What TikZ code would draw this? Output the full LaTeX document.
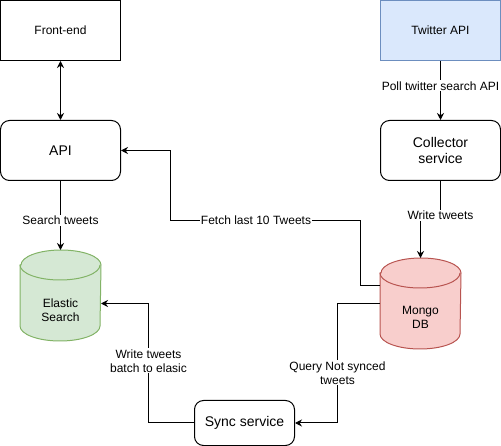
\documentclass[tikz,border=0pt]{standalone}
\usepackage{fontspec}
\setmainfont{Liberation Sans}
\usepackage{tikz}
\usetikzlibrary{arrows.meta}

\definecolor{twfill}{HTML}{DAE8FC}
\definecolor{twline}{HTML}{6C8EBF}
\definecolor{esfill}{HTML}{D5E8D4}
\definecolor{esline}{HTML}{82B366}
\definecolor{mgfill}{HTML}{F8CECC}
\definecolor{mgline}{HTML}{B85450}

\begin{document}
\begin{tikzpicture}[x=1pt, y=-1pt, line width=1pt,
	every node/.style={font=\fontsize{12}{14}\selectfont, align=center},
	box/.style={draw, minimum width=120pt, minimum height=60pt, inner sep=0pt},
	svc/.style={box, rounded corners=9pt, font=\fontsize{14}{16}\selectfont},
	db/.style={minimum width=80pt, minimum height=90pt, inner sep=0pt},
	dbcap/.style={x radius=40pt, y radius=15pt},
	elabel/.style={fill=white, inner sep=1pt},
	flow/.style={-{Stealth[length=7pt,width=7pt]}}]
	\useasboundingbox (-0.5,-0.5) rectangle (500.5,445.5);
	\node[box] (front) at (60,30) {Front-end};
	\node[box, fill=twfill, draw=twline] (twitter) at (440,30) {Twitter API};
	\node[svc] (api) at (60,150) {API};
	\node[svc] (collector) at (440,150) {Collector\\service};
	\node[db] (es) at (60,295) {};
	\node[db] (mongo) at (420,303) {};
	\foreach \n/\c in {es/es, mongo/mg} {
		\path[draw=\c line, fill=\c fill] ([yshift=-15pt]\n.north west) -- ([yshift=15pt]\n.south west)
			arc[dbcap, start angle=180, end angle=360] -- ([yshift=-15pt]\n.north east)
			arc[dbcap, start angle=0, end angle=180] -- cycle;
		\draw[\c line] ([yshift=-15pt]\n.north west) arc[dbcap, start angle=180, end angle=360];
	}
	\node (estext) at (60,310) {Elastic\\Search};
	\node (mgtext) at (420,317) {Mongo\\DB};
	\node[svc, minimum width=100pt, minimum height=45pt] (sync) at (244,422.5) {Sync service};
	% links
	\draw[{Stealth[length=7pt,width=7pt]}-{Stealth[length=7pt,width=7pt]}] (front) -- (api);
	\draw[flow] (twitter) -- node[elabel, pos=0.42] {Poll twitter search API} (collector);
	\draw[flow] (api) -- node[elabel, pos=0.57] {Search tweets} (es);
	\draw[flow] (collector.south) -- (440,215) node[elabel] {Write tweets} -| (mongo.north);
	\draw[flow] ([yshift=18pt]mongo.west) -| (360,220) -- node[elabel, pos=0.55] {Fetch last 10 Tweets} (170,220) |- (api.east);
	\draw[flow] (mongo.west) -- (337,303) |- node[elabel, pos=0.29] {Query Not synced\\tweets} (sync.east);
	\draw[flow] (sync.west) -| node[elabel, pos=0.76] {Write tweets\\batch to elasic} (148,303) -- ([yshift=-8pt]es.east);
\end{tikzpicture}
\end{document}
